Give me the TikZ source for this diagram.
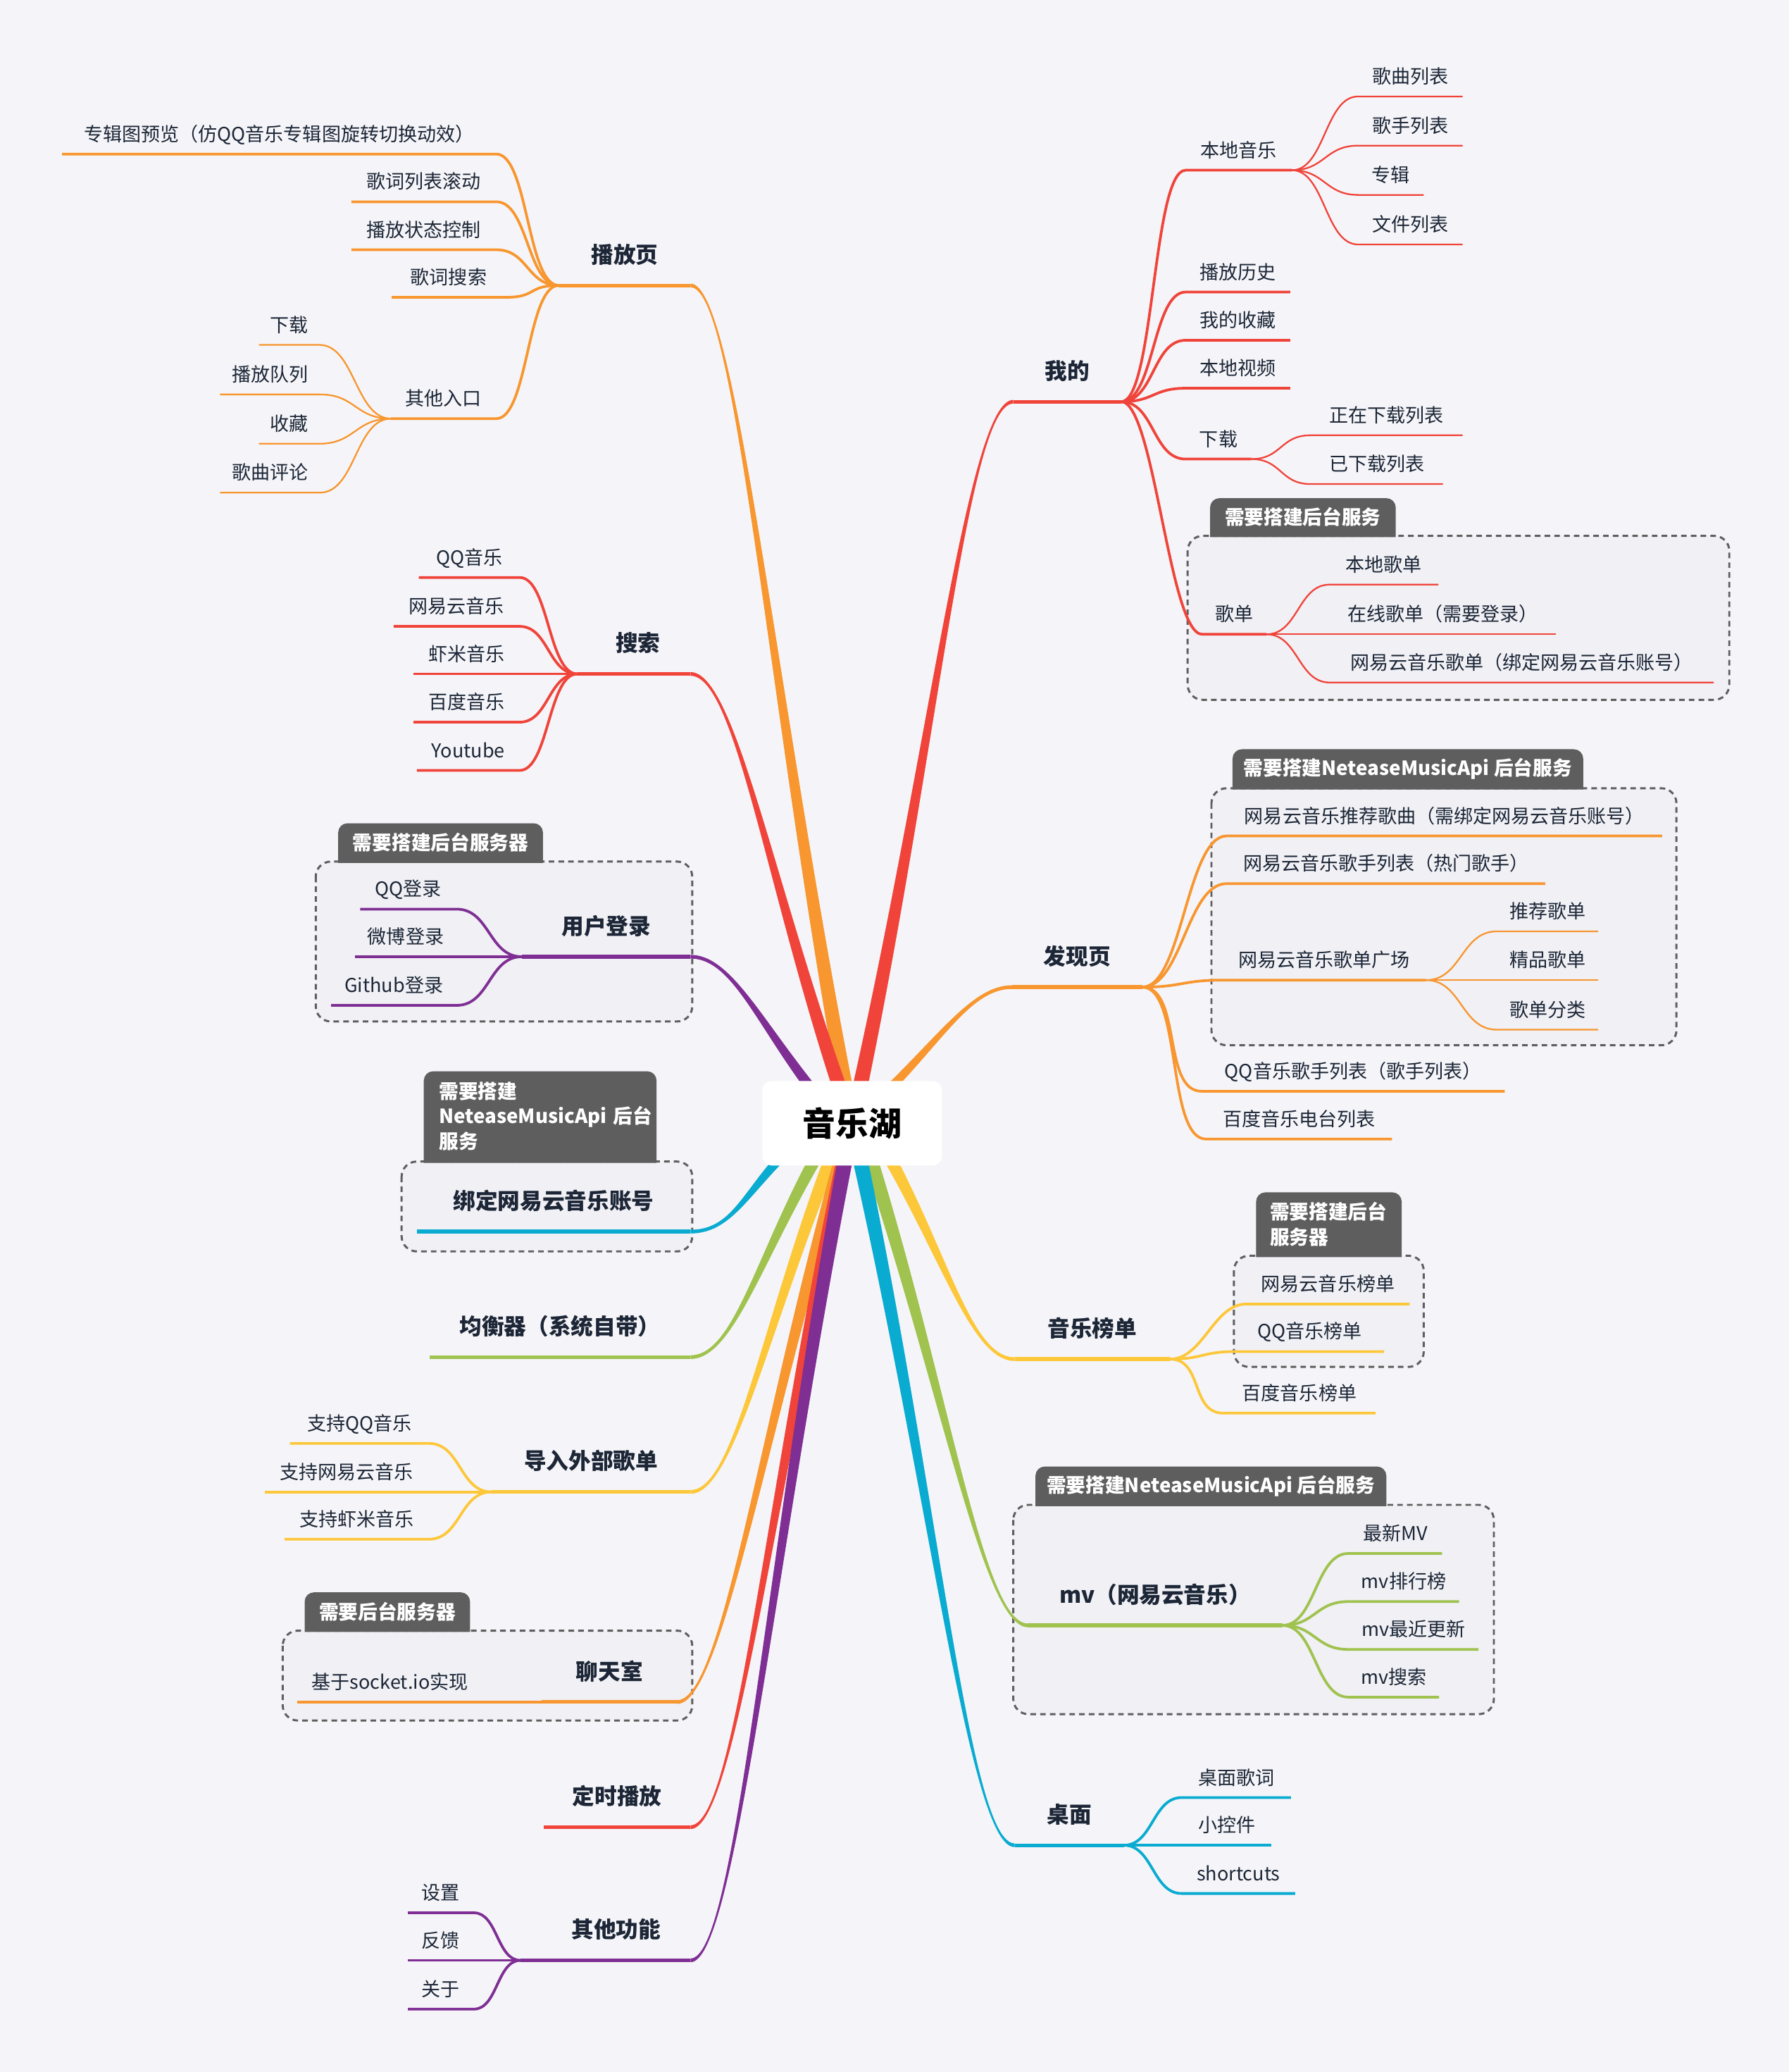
\documentclass[tikz,border=0pt]{standalone}
\usepackage{fontspec}
\setmainfont{Noto Sans CJK SC}
\usetikzlibrary{calc}

\definecolor{bgc}{HTML}{F5F5F9}
\definecolor{boxc}{HTML}{F0F0F5}
\definecolor{dashc}{HTML}{5F5F5F}
\definecolor{tagc}{HTML}{5E5E5E}
\definecolor{ink}{HTML}{1C2636}
\definecolor{redC}{HTML}{F0443A}
\definecolor{orangeC}{HTML}{F8962F}
\definecolor{yellowC}{HTML}{FDC73A}
\definecolor{greenC}{HTML}{A0C24E}
\definecolor{cyanC}{HTML}{0AABD1}
\definecolor{purpleC}{HTML}{7F2F94}

\newcommand{\topicfont}{\fontsize{9.6}{11.5}\selectfont\bfseries}
\newcommand{\leaffont}{\fontsize{8.2}{10}\selectfont}
\newcommand{\tagfont}{\fontsize{8.4}{10.8}\selectfont\bfseries}

\tikzset{
  topic/.style={anchor=south west, inner xsep=0pt, inner ysep=9.4pt, text depth=0pt, font=\topicfont, text=ink},
  leaf/.style={anchor=south west, inner xsep=0pt, inner ysep=5.4pt, text depth=0pt, font=\leaffont, text=ink},
  uw/.style={minimum width=#1*0.2mm},
  lvA/.style={line width=1.6pt},
  lvB/.style={line width=1.15pt},
  lvC/.style={line width=0.7pt},
  grp/.style={draw=dashc, fill=boxc, line width=0.9pt, dash pattern=on 2.4pt off 1.8pt, rounded corners=6.5pt},
  tagtxt/.style={font=\tagfont, text=white, inner sep=0pt},
  hubbox/.style={fill=white, rounded corners=4pt, minimum width=27.2mm, minimum height=12.8mm,
    font=\fontsize{14.2}{16}\selectfont\bfseries, text=black}
}

% tapered main branch: colour, topic anchor, pull, half width at end, end point
\newcommand{\limb}[5]{%
  \fill[#1] ($(#2)+(0,-1.4)$) .. controls +(#3,0) and ($(#5)!0.5!(#2)+({0.6*(#4)},0)$) .. ($(#5)+(#4,0)$)
    -- ($(#5)-(#4,0)$) .. controls ($(#5)!0.5!(#2)-({0.6*(#4)},0)$) and +(#3,0) .. ($(#2)+(0,1.4)$) -- cycle;}
% grey tab above a dashed group: x1, top, x2, bottom
\newcommand{\tagbox}[4]{%
  \fill[tagc] (#1,#4+1) [rounded corners=4pt] -- (#1,#2) -- (#3,#2) [sharp corners] -- (#3,#4+1) -- cycle;}

\begin{document}
\begin{tikzpicture}[x=0.2mm, y=-0.2mm]
\path[use as bounding box, fill=bgc] (0,0) rectangle (1354,1568);
\coordinate (hub) at (645,850);

\path[grp] (239,652) rectangle (524,773);
\path[grp] (304,879) rectangle (524,947);
\path[grp] (214,1234) rectangle (524,1302);
\path[grp] (899,405.5) rectangle (1309,529.6);
\path[grp] (917,596.5) rectangle (1269,791);
\path[grp] (934,950.3) rectangle (1077.7,1034.4);
\path[grp] (767,1138.8) rectangle (1130.8,1297.2);

\tagbox{256}{623}{411}{652}
\tagbox{320.8}{810.7}{497}{879}
\tagbox{230.6}{1205}{355.8}{1234}
\tagbox{916}{377}{1056.5}{405.5}
\tagbox{933}{567}{1198.4}{596.5}
\tagbox{950.8}{902.3}{1061}{950.3}
\tagbox{783.8}{1109.8}{1049.4}{1138.8}
\node[tagtxt] (tagLogin) at (333.5,637.5) {需要搭建后台服务器};
\node[tagtxt, anchor=west, text width=36mm, align=left] (tagBind) at (332,844.7) {需要搭建\\NeteaseMusicApi 后台\\服务};
\node[tagtxt] (tagChat) at (293.2,1219.5) {需要后台服务器};
\node[tagtxt] (tagList) at (986.2,391.2) {需要搭建后台服务};
\node[tagtxt] (tagDisc) at (1065.7,581.7) {需要搭建NeteaseMusicApi 后台服务};
\node[tagtxt, anchor=west, text width=22mm, align=left] (tagRank) at (961,926.3) {需要搭建后台\\服务器};
\node[tagtxt] (tagMv) at (916.6,1124.3) {需要搭建NeteaseMusicApi 后台服务};

\node[topic, uw=99] (play) at (423,216) {播放页};
\node[topic, uw=85] (srch) at (437,510) {\hspace*{1.2mm}搜索};
\node[topic, uw=127] (login) at (395,724) {用户登录};
\node[topic, uw=206.5] (bind) at (315.5,932) {绑定网易云音乐账号};
\node[topic, uw=197] (eq) at (325,1027) {均衡器（系统自带）};
\node[topic, uw=150] (imp) at (372,1129) {导入外部歌单};
\node[topic, uw=102] (chat) at (410,1288) {聊天室};
\node[topic, uw=110.5] (timer) at (411.5,1382.7) {定时播放};
\node[topic, uw=128] (misc) at (394,1483.5) {\hspace*{3.2mm}其他功能};
\node[topic, uw=81] (mine) at (767,304) {我的};
\node[topic, uw=98] (disc) at (766,747) {发现页};
\node[topic, uw=117] (rank) at (768,1028.5) {音乐榜单};
\node[topic, uw=192] (mv) at (778,1230) {mv（网易云音乐）};
\node[topic, uw=82] (desk) at (768,1396.4) {桌面};

\node[leaf, uw=328] (pA) at (47,116.6) {专辑图预览（仿QQ音乐专辑图旋转切换动效）};
\node[leaf, uw=109] (pB) at (266,152.7) {歌词列表滚动};
\node[leaf, uw=109] (pC) at (266,189) {播放状态控制};
\node[leaf, uw=85.5] (pD) at (296.5,225) {歌词搜索};
\node[leaf, uw=79] (pE) at (296,316.8) {其他入口};
\node[leaf, uw=45] (pE1) at (196,261) {下载};
\node[leaf, uw=75] (pE2) at (166.5,298.5) {播放队列};
\node[leaf, uw=45] (pE3) at (196,335.8) {收藏};
\node[leaf, uw=75] (pE4) at (166.5,372.8) {歌曲评论};

\node[leaf, uw=75.6] (s1) at (317,437) {QQ音乐};
\node[leaf, uw=94.6] (s2) at (298,474) {网易云音乐};
\node[leaf, uw=79.6] (s3) at (313,510) {虾米音乐};
\node[leaf, uw=79.6] (s4) at (313,546.5) {百度音乐};
\node[leaf, uw=77.1] (s5) at (315.5,583) {Youtube};

\node[leaf, uw=72.4] (l1) at (272.6,688) {QQ登录};
\node[leaf, uw=76.5] (l2) at (268.5,724) {微博登录};
\node[leaf, uw=94.4] (l3) at (250.6,760.8) {Github登录};

\node[leaf, uw=104.6] (i1) at (219.4,1092.3) {支持QQ音乐};
\node[leaf, uw=123.7] (i2) at (200.3,1129) {支持网易云音乐};
\node[leaf, uw=108.6] (i3) at (215.4,1164.8) {支持虾米音乐};

\node[leaf, uw=140] (c1) at (224.8,1288) {基于socket.io实现};

\node[leaf, uw=49.3] (o1) at (308.7,1447.5) {设置};
\node[leaf, uw=49.3] (o2) at (308.7,1483.5) {反馈};
\node[leaf, uw=49.3] (o3) at (308.7,1520.4) {关于};

\node[leaf, uw=79.7] (m1) at (897.5,128.8) {本地音乐};
\node[leaf, uw=78.5] (m11) at (1028,73) {歌曲列表};
\node[leaf, uw=78.5] (m12) at (1028,110.2) {歌手列表};
\node[leaf, uw=49] (m13) at (1028,147.5) {专辑};
\node[leaf, uw=78.5] (m14) at (1028,185) {文件列表};
\node[leaf, uw=78.5] (m2) at (897.5,221) {播放历史};
\node[leaf, uw=78.5] (m3) at (897.5,257.5) {我的收藏};
\node[leaf, uw=78.5] (m4) at (897.5,293.8) {本地视频};
\node[leaf, uw=49] (m5) at (897.5,347.4) {下载};
\node[leaf, uw=114.5] (m51) at (992,329.4) {正在下载列表};
\node[leaf, uw=99.5] (m52) at (992,366.3) {已下载列表};
\node[leaf, uw=48] (m6) at (910,480) {歌单};
\node[leaf, uw=81.5] (m61) at (1006.5,442.4) {本地歌单};
\node[leaf, uw=170.5] (m62) at (1006.5,480) {在线歌单（需要登录）};
\node[leaf, uw=290] (m63) at (1006.5,516.5) {网易云音乐歌单（绑定网易云音乐账号）};

\node[leaf, uw=329] (d1) at (928.5,632.6) {网易云音乐推荐歌曲（需绑定网易云音乐账号）};
\node[leaf, uw=240.5] (d2) at (928.5,668.7) {网易云音乐歌手列表（热门歌手）};
\node[leaf, uw=153.7] (d3) at (925,741.7) {网易云音乐歌单广场};
\node[leaf, uw=76] (d31) at (1133,704.8) {推荐歌单};
\node[leaf, uw=76] (d32) at (1133,741.7) {精品歌单};
\node[leaf, uw=76] (d33) at (1133,779.2) {歌单分类};
\node[leaf, uw=228.8] (d4) at (909.5,825.8) {QQ音乐歌手列表（歌手列表）};
\node[leaf, uw=140] (d5) at (913,862) {百度音乐电台列表};

\node[leaf, uw=122.8] (r1) at (943.5,986.8) {网易云音乐榜单};
\node[leaf, uw=112] (r2) at (935,1022.8) {QQ音乐榜单};
\node[leaf, uw=114.6] (r3) at (926,1069.4) {百度音乐榜单};

\node[leaf, uw=70.2] (v1) at (1020.6,1175.6) {最新MV};
\node[leaf, uw=83.2] (v2) at (1020.6,1212) {mv排行榜};
\node[leaf, uw=97.9] (v3) at (1020.6,1248.2) {mv最近更新};
\node[leaf, uw=68] (v4) at (1020.6,1284.3) {mv搜索};

\node[leaf, uw=82] (k1) at (894.5,1360.3) {桌面歌词};
\node[leaf, uw=67.3] (k2) at (894.5,1396.4) {小控件};
\node[leaf, uw=85.2] (k3) at (894.5,1432.9) {shortcuts};

% left side twigs
\foreach \n in {pA,pB,pC,pD,pE}
  \draw[lvB, orangeC] (\n.south west) -- (\n.south east) .. controls +(24,0) and +(-24,0) .. (play.south west);
\foreach \n in {pE1,pE2,pE3,pE4}
  \draw[lvC, orangeC] (\n.south west) -- (\n.south east) .. controls +(27,0) and +(-27,0) .. (pE.south west);
\foreach \n in {s1,s2,s3,s4,s5}
  \draw[lvB, redC] (\n.south west) -- (\n.south east) .. controls +(22,0) and +(-22,0) .. (srch.south west);
\foreach \n in {l1,l2,l3}
  \draw[lvB, purpleC] (\n.south west) -- (\n.south east) .. controls +(25,0) and +(-25,0) .. (login.south west);
\foreach \n in {i1,i2,i3}
  \draw[lvB, yellowC] (\n.south west) -- (\n.south east) .. controls +(24,0) and +(-24,0) .. (imp.south west);
\draw[lvB, orangeC] (c1.south west) -- (c1.south east) -- (chat.south west);
\foreach \n in {o1,o2,o3}
  \draw[lvB, purpleC] (\n.south west) -- (\n.south east) .. controls +(18,0) and +(-18,0) .. (misc.south west);

% right side twigs
\foreach \n in {m1,m2,m3,m4,m5,m6}
  \draw[lvB, redC] (\n.south east) -- (\n.south west) .. controls +(-25,0) and +(25,0) .. (mine.south east);
\foreach \n in {m11,m12,m13,m14}
  \draw[lvC, redC] (\n.south east) -- (\n.south west) .. controls +(-25,0) and +(25,0) .. (m1.south east);
\foreach \n in {m51,m52}
  \draw[lvC, redC] (\n.south east) -- (\n.south west) .. controls +(-23,0) and +(23,0) .. (m5.south east);
\foreach \n in {m61,m62,m63}
  \draw[lvC, redC] (\n.south east) -- (\n.south west) .. controls +(-24,0) and +(24,0) .. (m6.south east);
\foreach \n in {d1,d2,d3,d4,d5}
  \draw[lvB, orangeC] (\n.south east) -- (\n.south west) .. controls +(-30,0) and +(30,0) .. (disc.south east);
\foreach \n in {d31,d32,d33}
  \draw[lvC, orangeC] (\n.south east) -- (\n.south west) .. controls +(-27,0) and +(27,0) .. (d3.south east);
\foreach \n in {r1,r2,r3}
  \draw[lvB, yellowC] (\n.south east) -- (\n.south west) .. controls +(-25,0) and +(25,0) .. (rank.south east);
\foreach \n in {v1,v2,v3,v4}
  \draw[lvB, greenC] (\n.south east) -- (\n.south west) .. controls +(-25,0) and +(25,0) .. (mv.south east);
\foreach \n in {k1,k2,k3}
  \draw[lvB, cyanC] (\n.south east) -- (\n.south west) .. controls +(-22,0) and +(22,0) .. (desk.south east);

\draw[lvA, orangeC] (play.south west) -- (play.south east);
\draw[lvA, redC] (srch.south west) -- (srch.south east);
\draw[lvA, purpleC] (login.south west) -- (login.south east);
\draw[lvA, cyanC] (bind.south west) -- (bind.south east);
\draw[lvA, greenC] (eq.south west) -- (eq.south east);
\draw[lvA, yellowC] (imp.south west) -- (imp.south east);
\draw[lvA, orangeC] (chat.south west) -- (chat.south east);
\draw[lvA, redC] (timer.south west) -- (timer.south east);
\draw[lvA, purpleC] (misc.south west) -- (misc.south east);
\draw[lvA, redC] (mine.south west) -- (mine.south east);
\draw[lvA, orangeC] (disc.south west) -- (disc.south east);
\draw[lvA, yellowC] (rank.south west) -- (rank.south east);
\draw[lvA, greenC] (mv.south west) -- (mv.south east);
\draw[lvA, cyanC] (desk.south west) -- (desk.south east);

% main branches
\limb{orangeC}{play.south east}{35}{6}{hub}
\limb{redC}{srch.south east}{35}{6}{hub}
\limb{purpleC}{login.south east}{35}{6}{636,850}
\limb{cyanC}{bind.south east}{35}{-6}{610,858}
\limb{greenC}{eq.south east}{35}{-6}{632,852}
\limb{yellowC}{imp.south east}{35}{-6}{640,850}
\limb{orangeC}{chat.south east}{35}{-6}{hub}
\limb{redC}{timer.south east}{35}{-6}{hub}
\limb{purpleC}{misc.south east}{35}{-6}{hub}
\limb{redC}{mine.south west}{-35}{-6}{hub}
\limb{orangeC}{disc.south west}{-35}{-6}{hub}
\limb{yellowC}{rank.south west}{-35}{6}{658,850}
\limb{greenC}{mv.south west}{-35}{6}{650,850}
\limb{cyanC}{desk.south west}{-35}{6}{hub}

\node[hubbox] (lake) at (hub) {音乐湖};
\end{tikzpicture}
\end{document}
